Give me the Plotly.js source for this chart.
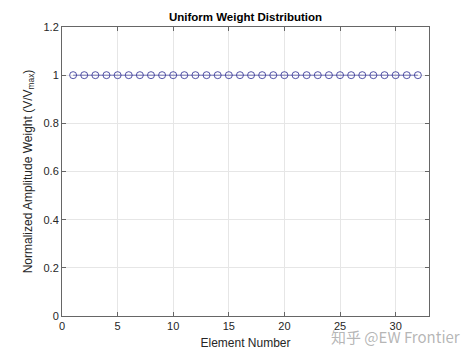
<!DOCTYPE html>
<html>
<head>
<meta charset="utf-8">
<script src="https://cdn.plot.ly/plotly-3.0.1.min.js"></script>
<style>html,body{margin:0;padding:0;background:#fff;}#chart{width:474px;height:355px;}</style>
</head>
<body>
<div id="chart"></div>
<script>
const elementNumbers = [1,2,3,4,5,6,7,8,9,10,11,12,13,14,15,16,17,18,19,20,21,22,23,24,25,26,27,28,29,30,31,32];
const weights = [1,1,1,1,1,1,1,1,1,1,1,1,1,1,1,1,1,1,1,1,1,1,1,1,1,1,1,1,1,1,1,1];
const xTicks = [0,5,10,15,20,25,30];
const yTicks = [0,0.2,0.4,0.6,0.8,1,1.2];
const yTickLabels = ['0','0.2','0.4','0.6','0.8','1','1.2'];

const font = {family: 'Liberation Sans, Arial, sans-serif', size: 11, color: '#262626'};

const trace = {
  x: elementNumbers, y: weights, type: 'scatter', mode: 'lines+markers',
  line: {color: '#1f1f8f', width: 0.6},
  marker: {symbol: 'circle-open', size: 7, color: '#2a2a90', line: {width: 0.8, color: '#2a2a90'}},
  hoverinfo: 'none'
};

const axisCommon = {
  showline: true, linecolor: '#666666', linewidth: 1, mirror: 'ticks',
  ticks: 'inside', ticklen: 4, tickcolor: '#666666',
  showgrid: true, gridcolor: '#e6e6e6', gridwidth: 1, zeroline: false,
  tickfont: font
};

const layout = {
  width: 474, height: 355,
  margin: {l: 62, r: 45, t: 27, b: 39},
  paper_bgcolor: '#fff', plot_bgcolor: '#fff',
  showlegend: false,
  title: {text: '<b>Uniform Weight Distribution</b>', font: {family: font.family, size: 11.5, color: '#000'}, x: 0.5, xanchor: 'center', xref: 'paper', y: 0.952, yanchor: 'middle'},
  xaxis: Object.assign({}, axisCommon, {range: [0, 33], tickvals: xTicks, ticktext: xTicks.map(String),
    title: {text: 'Element Number', font: {family: font.family, size: 12, color: '#262626'}, standoff: 7}}),
  yaxis: Object.assign({}, axisCommon, {range: [0, 1.2], tickvals: yTicks, ticktext: yTickLabels,
    title: {text: 'Normalized Amplitude Weight (V/V<sub>max</sub>)', font: {family: font.family, size: 12, color: '#262626'}, standoff: 8}}),
  annotations: [{
    text: '知乎 @EW Frontier', xref: 'paper', yref: 'paper', x: 1.09, y: -0.072, xanchor: 'right', yanchor: 'middle',
    showarrow: false, font: {family: 'Noto Sans CJK SC, sans-serif', size: 15, color: 'rgba(150,150,150,0.7)'}
  }]
};

Plotly.newPlot('chart', [trace], layout, {displayModeBar: false, staticPlot: true});
</script>
</body>
</html>
